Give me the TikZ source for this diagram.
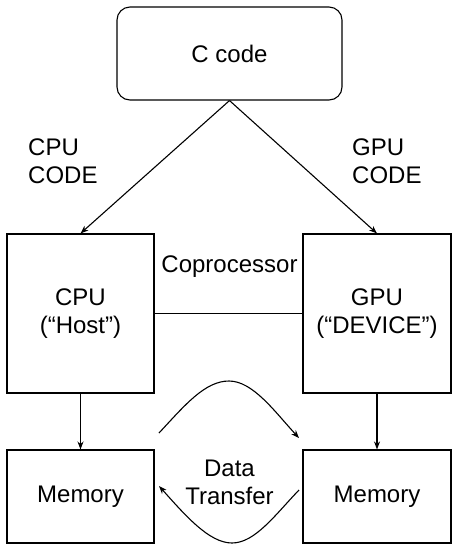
\documentclass[tikz,border=0pt]{standalone}
\usepackage{fontspec}
\setmainfont{Liberation Sans}
\usetikzlibrary{arrows.meta}
\begin{document}
\begin{tikzpicture}[x=1pt,y=-1pt,
  every node/.style={font=\fontsize{24}{28}\selectfont},
  box/.style={draw, line width=1.1pt, inner sep=0pt, align=center},
  lbl/.style={inner sep=0pt, align=center},
  line/.style={line width=1.1pt},
  arr/.style={line width=1.1pt, -{Stealth[length=8pt,width=6pt]}}]
\fill[white] (0,0) rectangle (458,550);
\useasboundingbox (0,0) rectangle (458,550);
\node[box, rounded corners=13pt, minimum width=225pt, minimum height=93pt] (ccode) at (229.5,53.5) {C code};
\node[box, minimum width=147pt, minimum height=159pt] (cpu) at (80.5,313.5) {CPU\\(“Host”)};
\node[box, minimum width=148pt, minimum height=159pt] (gpu) at (377,313.5) {GPU\\(“DEVICE”)};
\node[box, minimum width=147pt, minimum height=93pt] (mem1) at (80.5,496.5) {Memory};
\node[box, minimum width=148pt, minimum height=93pt] (mem2) at (377,496.5) {Memory};
\node[lbl, anchor=west, align=left] (cpucode) at (28,161.5) {CPU\\CODE};
\node[lbl, anchor=west, align=left] (gpucode) at (352,161.5) {GPU\\CODE};
\node[lbl, anchor=base] (cop) at (229.5,272.5) {Coprocessor};
\node[lbl] (dt) at (229.5,482.5) {Data\\Transfer};
\draw[arr] (ccode.south) -- (cpu.north);
\draw[arr] (ccode.south) -- (gpu.north);
\draw[line] (cpu.east) -- (gpu.west);
\draw[arr] (cpu.south) -- (mem1.north);
\draw[arr] (gpu.south) -- (mem2.north);
\coordinate (t1) at (159,433);
\coordinate (t2) at (299,438);
\coordinate (b1) at (299,490);
\coordinate (b2) at (159,486);
\draw[arr] (t1) .. controls (185,405) and (205,381) .. (229,381) .. controls (253,381) and (275,412) .. (t2);
\draw[arr] (b1) .. controls (275,515) and (255,543) .. (232,543) .. controls (209,543) and (185,515) .. (b2);
\end{tikzpicture}
\end{document}
